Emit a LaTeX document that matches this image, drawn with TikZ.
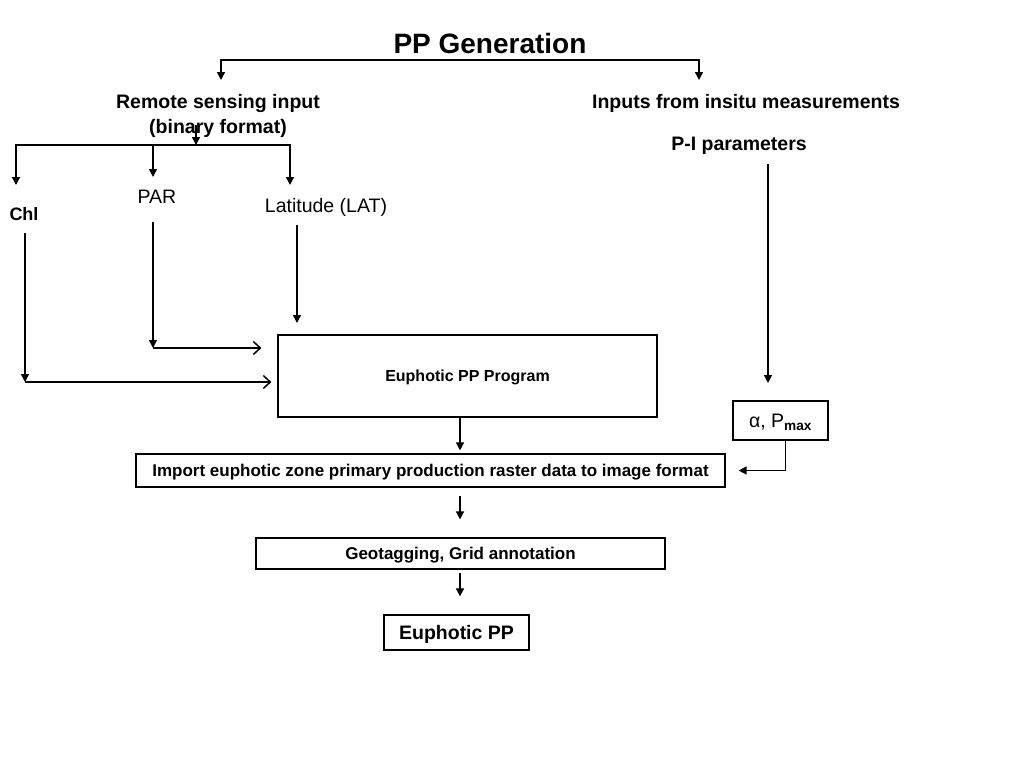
\documentclass[tikz,border=0pt]{standalone}
\usepackage{fontspec}
\setmainfont{Liberation Sans}
\usetikzlibrary{arrows.meta}
\begin{document}
\begin{tikzpicture}[x=1pt, y=-1pt, line width=1.5pt, >={Triangle[length=8pt,width=8pt]}]
    \tikzstyle{label} = [inner sep=0pt, align=center, font=\bfseries\fontsize{19.5}{25}\selectfont]
    \tikzstyle{plain} = [inner sep=0pt, font=\fontsize{19.5}{23}\selectfont]
    \tikzstyle{box} = [rectangle, draw, line width=1.2pt, inner sep=0pt, text height=12pt, text depth=0pt, font=\bfseries\fontsize{17}{20}\selectfont]
    \tikzstyle{open} = [-{Straight Barb[length=7pt,width=13pt]}]
    \useasboundingbox (0,0) rectangle (1024,768);

    \node (title) [label, font=\bfseries\fontsize{28}{32}\selectfont] at (490,43) {PP Generation};
    \node (remote) [label] at (218,116) {Remote sensing input\\(binary format)};
    \node (insitu) [label] at (746,103) {Inputs from insitu measurements};
    \node (pi) [label] at (739,146) {P-I parameters};
    \node (chl) [label, font=\bfseries\fontsize{18}{22}\selectfont] at (24,214) {Chl};
    \node (par) [plain] at (157,197) {PAR};
    \node (lat) [plain] at (326,207) {Latitude (LAT)};

    \node (prog) [box, minimum width=379, minimum height=82, text height=11.5pt, font=\bfseries\fontsize{16}{19}\selectfont] at (467.5,376) {Euphotic PP Program};
    \node (import) [box, minimum width=589, minimum height=33] at (430.5,470.5) {Import euphotic zone primary production raster data to image format};
    \node (params) [box, minimum width=95, minimum height=39, text height=14pt, font=\fontsize{19.5}{23}\selectfont] at (780.5,420.5) {α, P\textsubscript{\bfseries max}};
    \node (geo) [box, minimum width=409, minimum height=31] at (460.5,553.5) {Geotagging, Grid annotation};
    \node (pp) [box, minimum width=145, minimum height=35, text height=14pt, font=\bfseries\fontsize{19.5}{23}\selectfont] at (456.5,632.5) {Euphotic PP};

    % branch points and arrow ends
    \coordinate (split) at (460,60);
    \coordinate (rsin) at (221,80);
    \coordinate (isin) at (699,80);
    \coordinate (fan) at (196,145);
    \coordinate (chlin) at (16,185);
    \coordinate (parin) at (153,177);
    \coordinate (latin) at (290,185);
    \coordinate (chlbend) at (25,382);
    \coordinate (parbend) at (153,348);
    \coordinate (latend) at (297,323);
    \coordinate (piend) at (768,383);
    \coordinate (spine) at (460,500);

    \draw [<->] (rsin) |- (split) -| (isin);
    \draw [->] (remote.south -| fan) ++(0,-13) -- (fan);
    \draw [<->] (chlin) |- (fan) -| (latin);
    \draw [->] (parin |- fan) -- (parin);

    \draw [->] (chl.south -| chlbend) ++(0,12) -- (chlbend);
    \draw [open, shorten >=6pt] (chlbend) -- (prog.west |- chlbend);
    \draw [->] (par.south -| parbend) ++(0,18) -- (parbend);
    \draw [open, shorten >=16pt] (parbend) -- (prog.west |- parbend);
    \draw [->] (lat.south -| latend) ++(0,8) -- (latend);
    \draw [->] (pi.south -| piend) ++(0,9) -- (piend);

    \draw [->, shorten >=3pt] (prog.south -| spine) -- (import.north -| spine);
    \draw [->, shorten <=8pt, shorten >=18pt] (import.south -| spine) -- (geo.north -| spine);
    \draw [->, shorten <=3pt, shorten >=18pt] (geo.south -| spine) -- (pp.north -| spine);
    \draw [->, shorten >=13pt] ([xshift=5pt]params.south) |- (import.east);

\end{tikzpicture}
\end{document}
